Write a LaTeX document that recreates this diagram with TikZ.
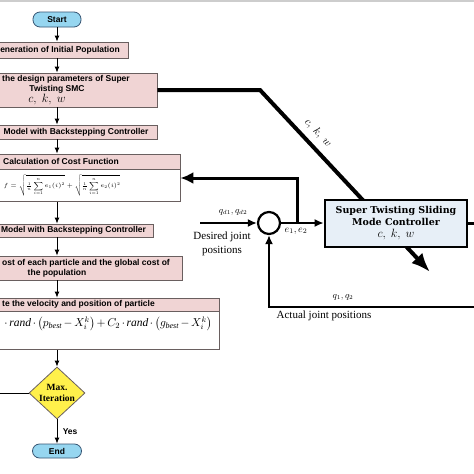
\documentclass[tikz,border=0pt]{standalone}
\usepackage{fix-cm}
\usepackage{amsmath}
\usepackage{amssymb}
\usepackage{fontspec}
\setmainfont{Liberation Serif}
\setsansfont{Liberation Sans}
\newfontfamily\slabfont{DejaVu Serif}
\usepackage{tikz}
\usetikzlibrary{arrows,arrows.meta,shapes,positioning}
\usepackage{xcolor}
\definecolor{flowpink}{RGB}{240,212,212}
\definecolor{flowedge}{RGB}{105,95,95}
\definecolor{termblue}{RGB}{150,214,240}
\definecolor{termedge}{RGB}{55,85,115}
\definecolor{decyellow}{RGB}{255,240,75}
\definecolor{ctrlblue}{RGB}{231,239,247}
\definecolor{topgray}{RGB}{205,205,205}
\newcommand{\flowfont}{\fontsize{8.5}{10}\selectfont\sffamily\bfseries}
\newcommand{\labfont}{\fontsize{11}{13.5}\selectfont}
\newcommand{\ckwfont}{\fontsize{12}{13}\selectfont}
\tikzstyle{flowbox} = [rectangle, draw=flowedge, fill=flowpink, line width=0.8pt, inner sep=1pt, align=center, font=\flowfont]
\tikzstyle{formbox} = [rectangle, draw=flowedge, fill=white, line width=0.8pt, inner sep=1pt, align=center]
\tikzstyle{termbox} = [rectangle, rounded corners=7pt, draw=termedge, fill=termblue, line width=0.8pt, font=\flowfont]
\tikzstyle{decbox} = [diamond, draw=flowedge, fill=decyellow, line width=0.8pt, inner sep=0pt, aspect=1.1, align=center, font=\fontsize{9.5}{10.5}\selectfont\bfseries]
\tikzstyle{ctrlbox} = [rectangle, draw=black, fill=ctrlblue, line width=2.6pt, minimum width=142pt, minimum height=47pt, align=center, font=\fontsize{9.5}{12}\selectfont\slabfont\bfseries]
\tikzstyle{sumnode} = [circle, draw=black, fill=white, line width=2.2pt, minimum size=22pt, inner sep=0pt]
\tikzstyle{arrow} = [line width=0.9pt, -{Latex[length=6pt,width=5pt]}]
\tikzstyle{sigline} = [line width=2.2pt]
\tikzstyle{sigarrow} = [line width=2.2pt, -{Latex[length=9pt,width=8pt]}]
\tikzstyle{fbarrow} = [line width=3pt, -{Latex[length=13pt,width=12pt]}]
\tikzstyle{ckarrow} = [line width=4pt, -{Latex[length=19pt,width=15pt]}]
\tikzstyle{siglabel} = [inner sep=1pt, align=center, font=\labfont]

\begin{document}
\begin{tikzpicture}[x=1pt, y=-1pt]
\useasboundingbox (0,0) rectangle (474,474);
\clip (0,0) rectangle (474,474);
\fill[topgray] (0,0) rectangle (474,2);

% Flowchart of the tuning loop
\node[termbox, minimum width=48pt, minimum height=15pt] (start) at (57,19.5) {Start};
\node[flowbox, minimum width=142pt, minimum height=16pt] (gen) at (57,50) {\hspace*{6pt}eneration of Initial Population};
\node[flowbox, minimum width=200pt, minimum height=34pt] (param) at (57,90) {\hspace*{18pt}the design parameters of Super\\ Twisting SMC\hspace*{14pt}\\ {\ckwfont $c,\ k,\ w$}\hspace*{20pt}};
\node[flowbox, minimum width=200pt, minimum height=14pt] (mbc1) at (57,132) {\hspace*{38pt}Model with Backstepping Controller};

% Cost function
\node[flowbox, minimum width=246pt, minimum height=15pt] (costh) at (57,161.5) {\hspace*{8pt}Calculation of Cost Function};
\node[formbox, minimum width=246pt, minimum height=32pt, anchor=north, font=\fontsize{5.9}{7}\selectfont] (costb) at (costh.south) {\hspace*{10pt}$\displaystyle f=\sqrt{\tfrac{1}{n}\sum_{i=1}^{n}e_1(i)^2}+\sqrt{\tfrac{1}{n}\sum_{i=1}^{n}e_2(i)^2}$};

\node[flowbox, minimum width=192pt, minimum height=13pt] (mbc2) at (57,230.5) {\hspace*{33pt}Model with Backstepping Controller};
\node[flowbox, minimum width=250pt, minimum height=24pt] (pcost) at (57,268) {\hspace*{58pt}ost of each particle and the global cost of\\ the population};

% Velocity and position update
\node[flowbox, minimum width=324pt, minimum height=13pt] (velh) at (57,304.5) {\hspace*{43pt}te the velocity and position of particle};
\node[formbox, minimum width=324pt, minimum height=38pt, anchor=north, text width=310pt, inner xsep=7pt, inner ysep=0pt, align=right, text height=10pt, text depth=18pt, font=\fontsize{11.5}{12}\selectfont] (velb) at (velh.south) {\medmuskip=2.5mu$\cdot\,\mathit{rand}\cdot\left(p_{\mathit{best}}-X_i^k\right)+C_2\cdot\mathit{rand}\cdot\left(g_{\mathit{best}}-X_i^k\right)$};

\node[decbox, minimum width=56pt, minimum height=52pt] (maxit) at (57,393) {Max.\\Iteration};
\node[termbox, minimum width=49pt, minimum height=14pt] (stop) at (57,451) {End};
\coordinate (nobr) at (-10,393);

\draw[arrow] (start) -- (gen);
\draw[arrow] (gen) -- (param);
\draw[arrow] (param) -- (mbc1);
\draw[arrow] (mbc1) -- (costh);
\draw[arrow] (costb) -- (mbc2);
\draw[arrow] (mbc2) -- (pcost);
\draw[arrow] (pcost) -- (velh);
\draw[arrow] (velb) -- (maxit);
\draw[arrow] (maxit) -- node[right=2pt, font=\flowfont] (yes) {Yes} (stop);
\draw[line width=0.9pt] (maxit.west) -- (nobr);

% Gains sent to the controller
\coordinate (ckbend) at (260,90);
\coordinate (cktip) at (430,272);
\draw[ckarrow] (param.east) -- (ckbend) -- (cktip);
\node[siglabel, rotate=-47, font=\fontsize{11}{12}\selectfont] (cklab) at (318,133) {$c,\ k,\ w$};

% Control loop
\node[ctrlbox] (stsmc) at (396,223.5) {Super Twisting Sliding\\Mode Controller\\{\normalfont\ckwfont $c,\ k,\ w$}};
\node[sumnode] (sum) at (269,223) {};
\coordinate (qin) at (200,223);
\coordinate (ebr) at (297,223);
\coordinate (fbk) at (297,178);
\coordinate (uout) at (480,223.5);
\coordinate (yin) at (480,307);

\draw[sigarrow] (qin) -- (sum);
\draw[sigarrow] (sum.east) -- (sum.east -| stsmc.west);
\draw[fbarrow] (ebr) -- (fbk) -- (fbk -| costb.east);
\draw[sigline] (stsmc.east) -- (uout);
\draw[sigarrow] (yin) -- (yin -| sum) -- (sum.south);

\node[siglabel, font=\fontsize{9}{10}\selectfont] (qdlab) at (233,212) {$q_{d1}, q_{d2}$};
\node[siglabel] (deslab) at (222,244) {Desired joint\\positions};
\node[siglabel, font=\fontsize{10}{11}\selectfont] (elab) at (296,231) {$e_1, e_2$};
\node[siglabel, font=\fontsize{9}{10}\selectfont] (qlab) at (343,297) {$q_1, q_2$};
\node[siglabel] (actlab) at (324,316) {Actual joint positions};
\end{tikzpicture}
\end{document}
